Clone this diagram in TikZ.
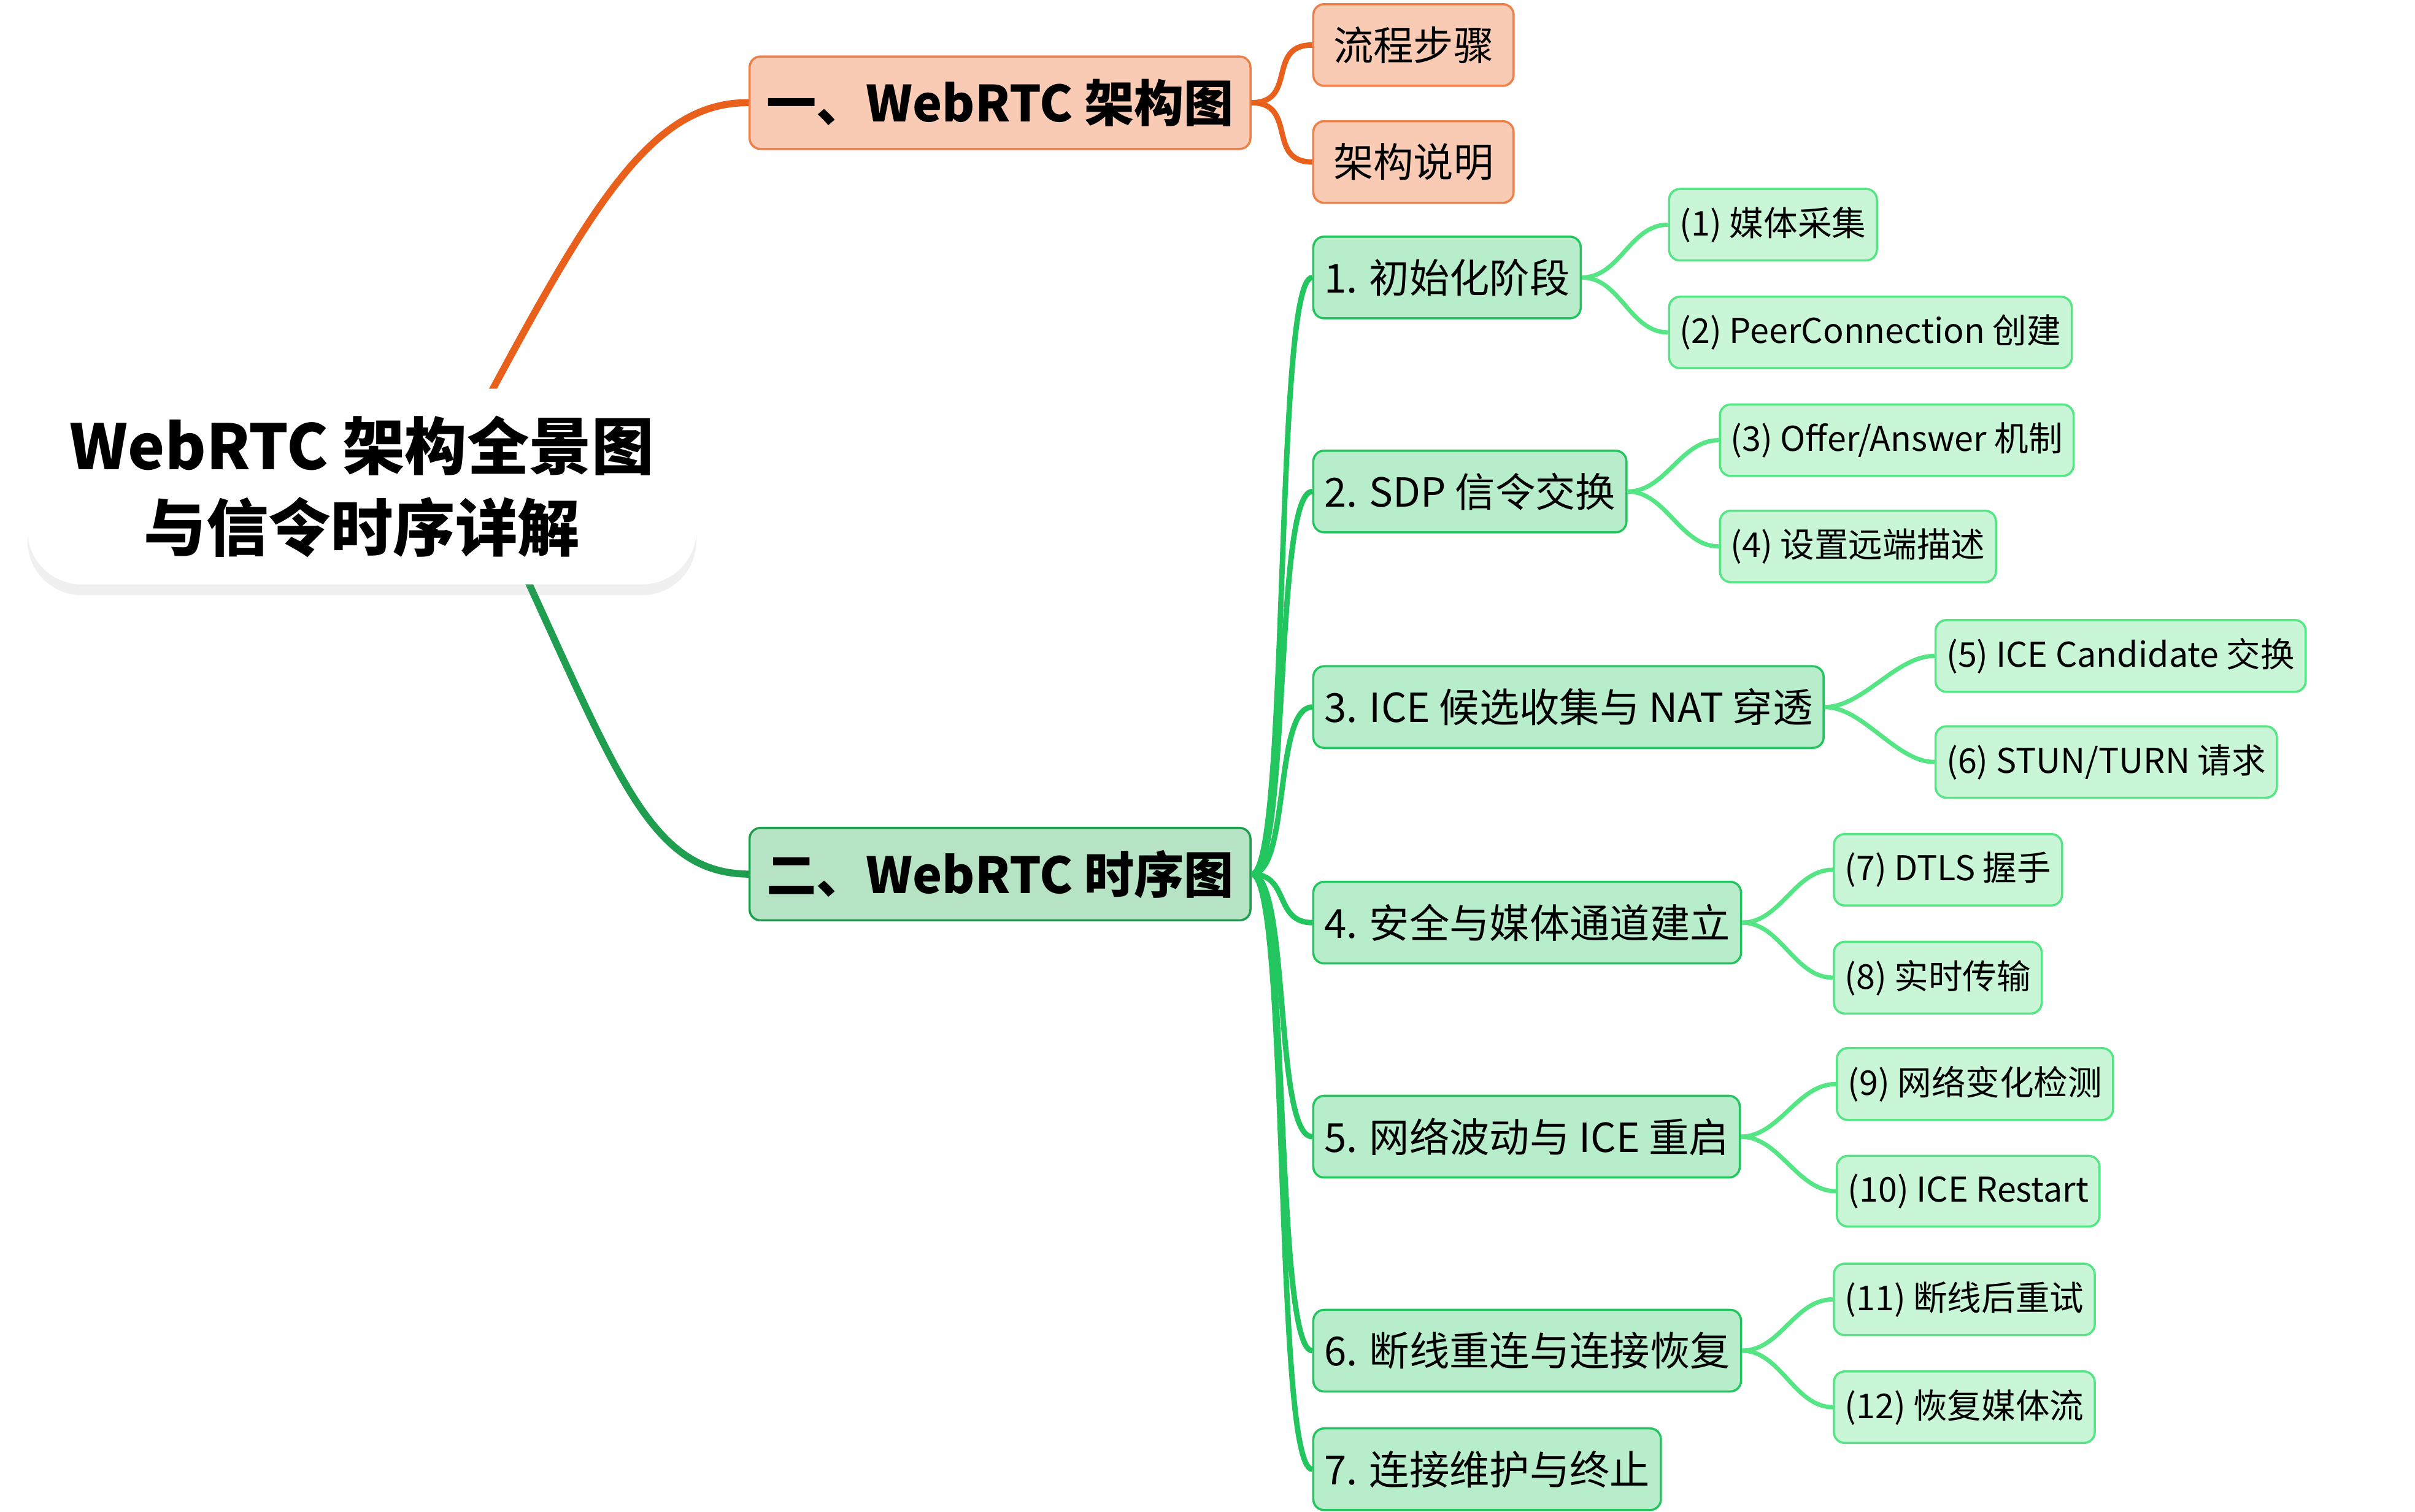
\documentclass[tikz,border=0pt]{standalone}
\usepackage{fontspec}
\setmainfont{Noto Sans CJK SC}
\usetikzlibrary{shadows}
\definecolor{orangeline}{HTML}{E8601C}
\definecolor{orangefill}{HTML}{F9CBB4}
\definecolor{darkgreen}{HTML}{1E9E4E}
\definecolor{midgreen}{HTML}{22C55E}
\definecolor{lightgreen}{HTML}{55E585}
\definecolor{branchfill}{HTML}{B5E3C4}
\definecolor{stepfill}{HTML}{B8EDCB}
\definecolor{leaffill}{HTML}{C9F6D7}
\tikzset{
  root/.style={rectangle, rounded corners=10pt, fill=white, drop shadow={opacity=0.12, shadow xshift=0pt, shadow yshift=-2pt},
    align=center, font=\fontsize{11.5}{15}\selectfont\bfseries, minimum width=4.34cm, minimum height=1.27cm},
  branchA/.style={rectangle, rounded corners=2pt, draw=orangeline!80, fill=orangefill, line width=0.4pt,
    font=\fontsize{9.2}{11}\selectfont\bfseries, minimum width=3.25cm, minimum height=0.6cm, anchor=north west, inner xsep=2pt},
  branchB/.style={branchA, draw=darkgreen, fill=branchfill},
  subA/.style={rectangle, rounded corners=2pt, draw=orangeline!80, fill=orangefill, line width=0.4pt,
    font=\fontsize{7.4}{9}\selectfont, minimum height=0.53cm, anchor=north west, inner xsep=2pt},
  stage/.style={subA, draw=midgreen, fill=stepfill},
  leaf/.style={rectangle, rounded corners=2pt, draw=lightgreen, fill=leaffill, line width=0.4pt,
    font=\fontsize{6.3}{8}\selectfont, minimum height=0.45cm, anchor=north west, inner xsep=2pt},
  linkA/.style={orangeline, line width=1.3pt},
  linkB/.style={darkgreen, line width=1.3pt},
  linkC/.style={midgreen, line width=1pt},
  linkD/.style={lightgreen, line width=0.8pt}
}
\begin{document}
\begin{tikzpicture}[x=0.01cm, y=-0.01cm]
\useasboundingbox (0,0) rectangle (1568,982);

% main branches
\node[branchA] (arch) at (486,36) {一、WebRTC 架构图};
\node[branchB] (seq) at (486,537) {二、WebRTC 时序图};

\coordinate (rtop) at (300,290);
\coordinate (rbot) at (330,350);
\draw[linkA] (rtop) .. controls (380,140) and (420,66) .. (arch.west);
\draw[linkB] (rbot) .. controls (400,500) and (420,567) .. (seq.west);

\node[root] (root) at (235,316) {WebRTC 架构全景图\\与信令时序详解};

% architecture children
\node[subA, minimum width=1.3cm] (flow) at (852,2) {流程步骤};
\node[subA, minimum width=1.3cm] (desc) at (852,78) {架构说明};
\foreach \c in {flow, desc}
  \draw[linkA, line width=1pt] (arch.east) .. controls +(30,0) and +(-30,0) .. (\c.west);

% sequence stages
\node[stage] (s1) at (852,153) {1. 初始化阶段};
\node[stage] (s2) at (852,292) {2. SDP 信令交换};
\node[stage] (s3) at (852,432) {3. ICE 候选收集与 NAT 穿透};
\node[stage] (s4) at (852,572) {4. 安全与媒体通道建立};
\node[stage] (s5) at (852,711) {5. 网络波动与 ICE 重启};
\node[stage] (s6) at (852,850) {6. 断线重连与连接恢复};
\node[stage] (s7) at (852,927) {7. 连接维护与终止};
\foreach \s in {s1,s2,s3,s4,s5,s6,s7}
  \draw[linkC] (seq.east) .. controls +(25,0) and +(-25,0) .. (\s.west);

% leaves
\node[leaf] (l1) at (1083,122) {(1) 媒体采集};
\node[leaf] (l2) at (1083,192) {(2) PeerConnection 创建};
\node[leaf] (l3) at (1116,262) {(3) Offer/Answer 机制};
\node[leaf] (l4) at (1116,331) {(4) 设置远端描述};
\node[leaf] (l5) at (1256,402) {(5) ICE Candidate 交换};
\node[leaf] (l6) at (1256,471) {(6) STUN/TURN 请求};
\node[leaf] (l7) at (1190,541) {(7) DTLS 握手};
\node[leaf] (l8) at (1190,611) {(8) 实时传输};
\node[leaf] (l9) at (1192,680) {(9) 网络变化检测};
\node[leaf] (l10) at (1192,750) {(10) ICE Restart};
\node[leaf] (l11) at (1190,820) {(11) 断线后重试};
\node[leaf] (l12) at (1190,890) {(12) 恢复媒体流};
\foreach \s/\a/\b in {s1/l1/l2, s2/l3/l4, s3/l5/l6, s4/l7/l8, s5/l9/l10, s6/l11/l12} {
  \draw[linkD] (\s.east) .. controls +(25,0) and +(-25,0) .. (\a.west);
  \draw[linkD] (\s.east) .. controls +(25,0) and +(-25,0) .. (\b.west);
}
\end{tikzpicture}
\end{document}
